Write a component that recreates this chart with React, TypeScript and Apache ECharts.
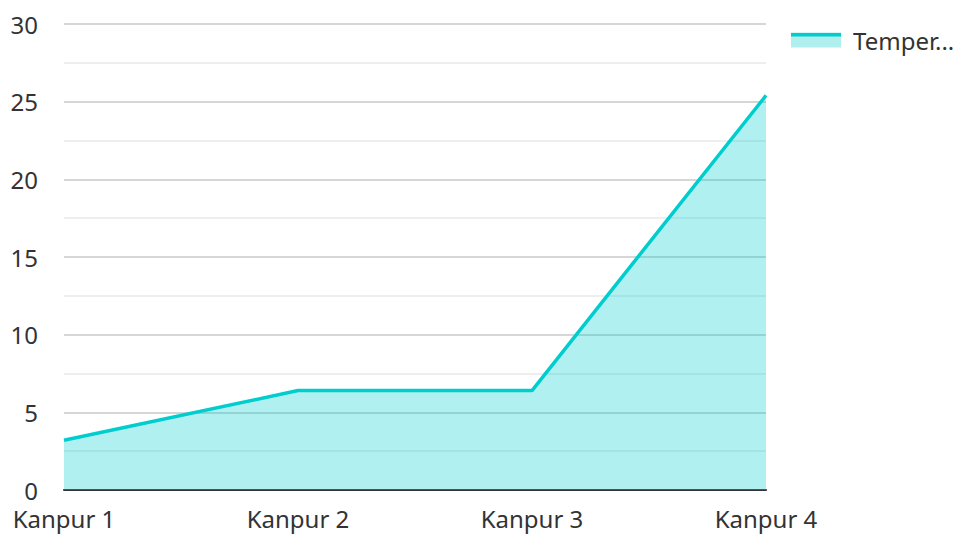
import React, { useEffect, useRef } from "react";
import * as echarts from "echarts";

const categories = ["Kanpur 1", "Kanpur 2", "Kanpur 3", "Kanpur 4"];
const temperature = [3.2, 6.4, 6.4, 25.4];
const seriesName = "Temperature";

export default function App() {
  const ref = useRef<HTMLDivElement>(null);
  useEffect(() => {
    document.body.style.margin = "0";
    const chart = echarts.init(ref.current!, null, { renderer: "svg" });
    const font = "'Noto Sans', 'Open Sans', sans-serif";
    chart.setOption({
      animation: false,
      grid: { left: 64, right: 190, top: 24, bottom: 44 },
      legend: {
        left: 786,
        top: 23,
        itemWidth: 50,
        itemHeight: 15,
        itemGap: 10,
        icon: "rect",
        data: [{ name: seriesName, itemStyle: { color: "#b0efee" } }],
        textStyle: {
          fontFamily: font,
          fontSize: 24,
          color: "#333",
          width: 110,
          overflow: "truncate",
          ellipsis: "...",
          padding: [0, 0, 4, 7],
        },
      },
      graphic: [
        {
          type: "rect",
          left: 791,
          top: 33,
          shape: { width: 50, height: 3.5 },
          style: { fill: "#00cdcd" },
          z: 100,
        },
      ],
      xAxis: {
        type: "category",
        data: categories,
        boundaryGap: false,
        axisLine: { lineStyle: { color: "#333", width: 2 } },
        axisTick: { show: false },
        axisLabel: { fontFamily: font, fontSize: 24, color: "#333", margin: 16 },
      },
      yAxis: {
        type: "value",
        min: 0,
        max: 30,
        interval: 5,
        axisLine: { show: false },
        axisTick: { show: false },
        axisLabel: { fontFamily: font, fontSize: 24, color: "#333", margin: 26 },
        splitLine: { lineStyle: { color: "#c8c8c8", width: 1.5 } },
        minorTick: { show: false, splitNumber: 2 },
        minorSplitLine: { show: true, lineStyle: { color: "#e8e8e8", width: 1.5 } },
      },
      series: [
        {
          name: seriesName,
          type: "line",
          data: temperature,
          showSymbol: false,
          symbol: "none",
          lineStyle: { color: "#00cdcd", width: 3.5 },
          itemStyle: { color: "#00cdcd" },
          areaStyle: { color: "rgba(0,205,205,0.31)", opacity: 1 },
        },
      ],
    });
    return () => chart.dispose();
  }, []);
  return <div ref={ref} style={{ position: "absolute", left: 0, top: 0, width: 956, height: 534 }} />;
}
